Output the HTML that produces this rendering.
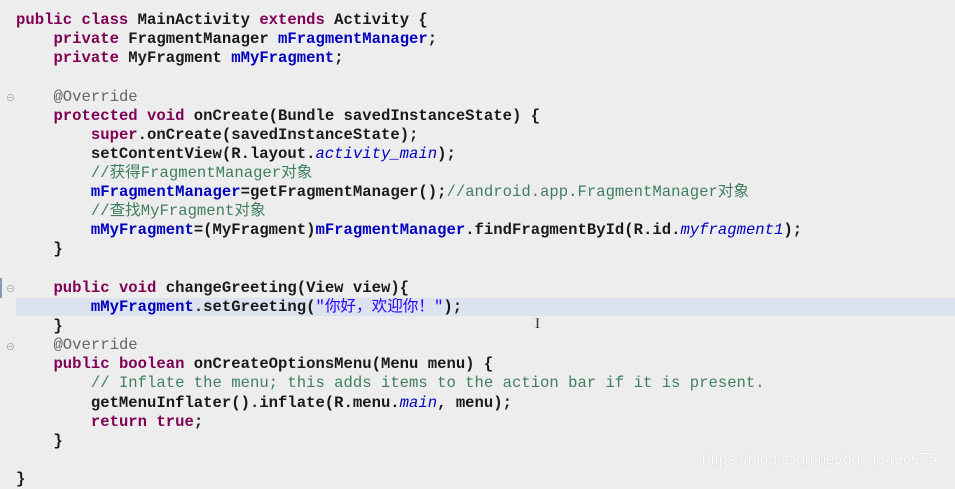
<!DOCTYPE html>
<html><head><meta charset="utf-8"><style>
body{margin:0;width:955px;height:480px;background:#ededed;overflow:hidden;position:relative;font-family:"Liberation Mono","Noto Sans CJK SC",monospace;font-size:15.6px;color:#1a1a1a;font-weight:bold}
.l{position:absolute;left:16px;white-space:pre;line-height:19px;height:19px}
.k{color:#7f0055}.f{color:#0000c0}.c{color:#3f7f5f;font-weight:normal}.s{color:#2a00ff;font-weight:normal}.a{color:#646464;font-weight:normal}.i{color:#0000c0;font-style:italic;font-weight:normal}
.hl{position:absolute;left:16px;right:0;top:298px;height:18px;background:#dde2ef}
.m{position:absolute;left:6px;color:#999;font-size:9px;font-weight:normal}
</style></head><body>
<div class="hl"></div>
<div class="m" style="top:91px">⊖</div>
<div class="m" style="top:282px">⊖</div>
<div class="m" style="top:340px">⊖</div>
<div style="position:absolute;left:0;top:278px;width:2px;height:20px;background:#8899bb"></div>
<div class="l" style="top:11px"><span class="k">public class</span> MainActivity <span class="k">extends</span> Activity {</div>
<div class="l" style="top:30px">    <span class="k">private</span> FragmentManager <span class="f">mFragmentManager</span>;</div>
<div class="l" style="top:49px">    <span class="k">private</span> MyFragment <span class="f">mMyFragment</span>;</div>
<div class="l" style="top:88px">    <span class="a">@Override</span></div>
<div class="l" style="top:107px">    <span class="k">protected void</span> onCreate(Bundle savedInstanceState) {</div>
<div class="l" style="top:126px">        <span class="k">super</span>.onCreate(savedInstanceState);</div>
<div class="l" style="top:145px">        setContentView(R.layout.<span class="i">activity_main</span>);</div>
<div class="l" style="top:164px">        <span class="c">//获得FragmentManager对象</span></div>
<div class="l" style="top:183px">        <span class="f">mFragmentManager</span>=getFragmentManager();<span class="c">//android.app.FragmentManager对象</span></div>
<div class="l" style="top:202px">        <span class="c">//查找MyFragment对象</span></div>
<div class="l" style="top:221px">        <span class="f">mMyFragment</span>=(MyFragment)<span class="f">mFragmentManager</span>.findFragmentById(R.id.<span class="i">myfragment1</span>);</div>
<div class="l" style="top:240px">    }</div>
<div class="l" style="top:279px">    <span class="k">public void</span> changeGreeting(View view){</div>
<div class="l" style="top:298px">        <span class="f">mMyFragment</span>.setGreeting(<span class="s">"你好，欢迎你！"</span>);</div>
<div class="l" style="top:317px">    }</div>
<div class="l" style="top:336px">    <span class="a">@Override</span></div>
<div class="l" style="top:355px">    <span class="k">public boolean</span> onCreateOptionsMenu(Menu menu) {</div>
<div class="l" style="top:374px">        <span class="c">// Inflate the menu; this adds items to the action bar if it is present.</span></div>
<div class="l" style="top:394px">        getMenuInflater().inflate(R.menu.<span class="i">main</span>, menu);</div>
<div class="l" style="top:413px">        <span class="k">return true</span>;</div>
<div class="l" style="top:432px">    }</div>
<div class="l" style="top:470px">}</div>
<div style="position:absolute;left:535px;top:316px;color:#333;font-weight:normal;font-family:'Liberation Serif',serif;font-size:15px">I</div>
<div style="position:absolute;left:702px;top:451px;color:#fff;opacity:.85;font-family:'Liberation Sans',sans-serif;font-weight:normal;font-size:15.3px;text-shadow:0 0 1px #aaa">https://blog.csdn.net/qq_43496675</div>
</body></html>
